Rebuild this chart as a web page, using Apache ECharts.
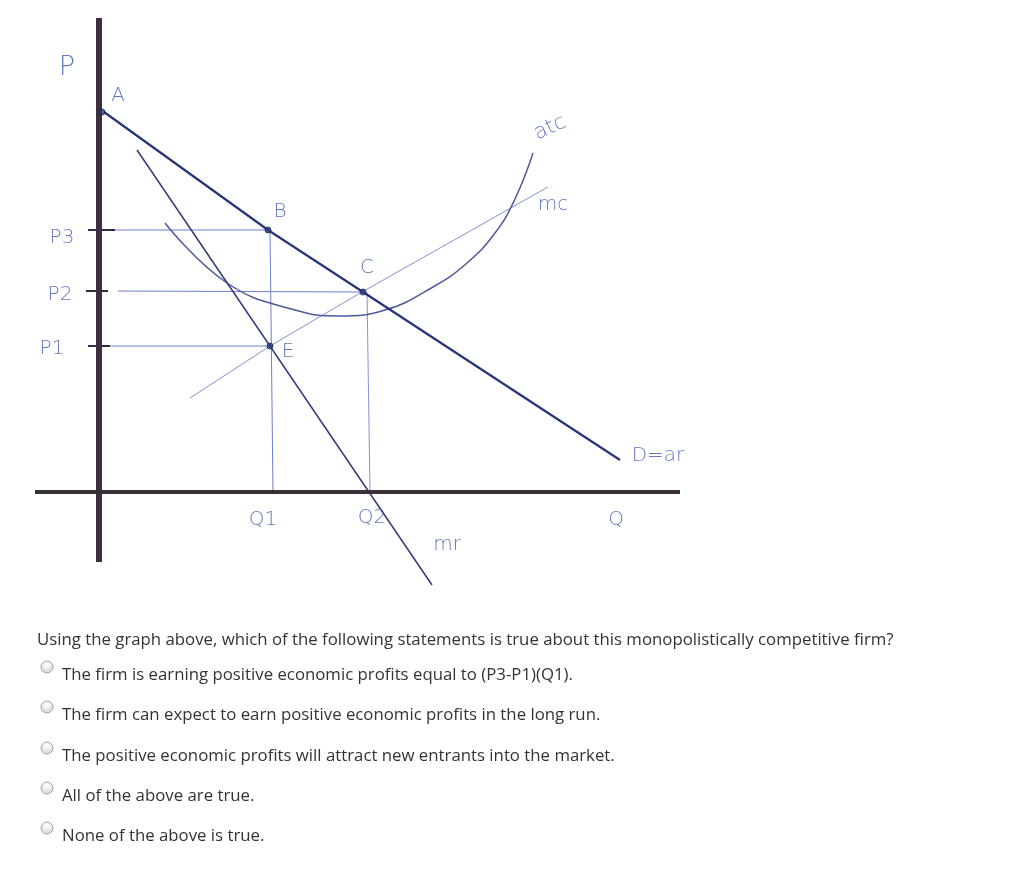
<!DOCTYPE html>
<html><head><meta charset="utf-8">
<script src="https://cdn.jsdelivr.net/npm/echarts@6/dist/echarts.min.js"></script>
<style>html,body{margin:0;padding:0;background:#fff;}#c{width:1024px;height:879px;}</style>
</head><body><div id="c"></div>
<script>
// Curves (x = quantity units, y = price units; origin at axis intersection)
const pAxis = [[0, -7.0], [0, 47.4]];
const qAxis = [[-6.4, 0], [58.1, 0]];
const demand = [[0.5, 38.0], [16.9, 26.2], [26.4, 20.0], [52.1, 3.2]];
const mr = [[3.8, 34.2], [33.3, -9.3]];
const mc = [[9.1, 9.4], [17.1, 14.6], [26.3, 20.0], [44.9, 30.5]];
const atc = [[6.6, 26.9], [12.8, 20.9], [19.6, 18.2], [24.0, 17.6], [28.6, 18.2], [33.4, 20.5], [36.8, 22.9], [39.6, 25.9], [41.6, 29.3], [43.4, 33.9]];
const guideP3 = [[1.6, 26.2], [16.9, 26.2]];
const guideP2 = [[1.9, 20.1], [26.4, 20.0]];
const guideP1 = [[1.1, 14.6], [17.1, 14.6]];
const tickP3 = [[-1.1, 26.2], [1.6, 26.2]];
const tickP2 = [[-1.3, 20.1], [0.9, 20.1]];
const tickP1 = [[-1.1, 14.6], [1.1, 14.6]];
const dropQ1 = [[17.1, 26.2], [17.4, 0]];
const dropQ2 = [[26.8, 20.0], [27.1, 0]];
const points = [[0.3, 38.0], [16.9, 26.2], [26.4, 20.0], [17.1, 14.6]];
const labels = [
  ['A', 1.9, 39.6], ['P3', -3.7, 25.4], ['P2', -3.9, 19.7], ['P1', -4.7, 14.3],
  ['B', 18.1, 28.0], ['C', 26.8, 22.4], ['E', 18.9, 14.0], ['mc', 45.4, 28.7],
  ['D=ar', 55.9, 3.6], ['Q1', 16.4, -2.8], ['Q2', 27.3, -2.6], ['Q', 51.7, -2.8], ['mr', 34.8, -5.3]
];
const bigLabels = [['P', -3.2, 42.4]];
const rotLabels = [['atc', 45.1, 36.4]];
const question = 'Using the graph above, which of the following statements is true about this monopolistically competitive firm?';
const options = [
  'The firm is earning positive economic profits equal to (P3-P1)(Q1).',
  'The firm can expect to earn positive economic profits in the long run.',
  'The positive economic profits will attract new entrants into the market.',
  'All of the above are true.',
  'None of the above is true.'
];

const ink = '#3f56b0';
function line(data, color, width, extra) {
  return Object.assign({ type: 'line', data: data, symbol: 'none', silent: true, animation: false,
    lineStyle: { color: color, width: width }, z: 2 }, extra || {});
}
function labelSeries(arr, size, rot) {
  return { type: 'scatter', data: arr.map(l => ({ value: [l[1], l[2]], name: l[0] })), symbolSize: 0, silent: true, animation: false,
    label: { show: true, position: 'inside', rotate: rot || 0, formatter: p => p.name, color: ink, fontSize: size,
      fontFamily: 'DejaVu Sans', fontWeight: 'lighter' }, z: 6 };
}
const series = [
  line(guideP3, '#6d80c6', 1), line(guideP2, '#6d80c6', 1), line(guideP1, '#6d80c6', 1),
  line(dropQ1, '#6d80c6', 1), line(dropQ2, '#8394d0', 1),
  line(mc, '#7f93d2', 1),
  line(atc, '#4d5a9c', 1.5, { smooth: 0.45 }),
  line(mr, '#2f3c7c', 1.5),
  line(demand, '#27357a', 2.2),
  line(tickP3, '#2c2c4a', 2), line(tickP2, '#2c2c4a', 2), line(tickP1, '#2c2c4a', 2),
  line(pAxis, '#3e3040', 6, { z: 3 }),
  line(qAxis, '#3a3038', 4, { z: 3 }),
  { type: 'scatter', data: points, symbol: 'circle', symbolSize: 6, silent: true, animation: false,
    itemStyle: { color: '#2a3a80', borderColor: '#1c2450', borderWidth: 1 }, z: 5 },
  labelSeries(labels, 20),
  labelSeries(bigLabels, 27),
  labelSeries(rotLabels, 21, 25)
];

const graphic = [
  { type: 'text', left: 37, top: 632, style: { text: question, fontFamily: 'Open Sans', fontSize: 16.8, fill: '#333' } }
];
const optY = [674, 714, 755, 795, 835];
options.forEach((t, i) => {
  graphic.push({ type: 'circle', shape: { cx: 47, cy: optY[i] - 7, r: 6 },
    style: { fill: new echarts.graphic.RadialGradient(0.5, 0.3, 0.8, [{ offset: 0, color: '#ffffff' }, { offset: 1, color: '#cfcfcf' }]),
      stroke: '#a4a4a4', lineWidth: 1 } });
  graphic.push({ type: 'text', left: 62, top: optY[i] - 7, style: { text: t, fontFamily: 'Open Sans', fontSize: 16.8, fill: '#333' } });
});

const chart = echarts.init(document.getElementById('c'));
chart.setOption({
  backgroundColor: '#fff',
  animation: false,
  grid: { left: 0, right: 0, top: 0, bottom: 279 },
  xAxis: { type: 'value', min: -9.9, max: 92.5, show: false },
  yAxis: { type: 'value', min: -10.8, max: 49.2, show: false },
  series: series,
  graphic: graphic
});
</script></body></html>
